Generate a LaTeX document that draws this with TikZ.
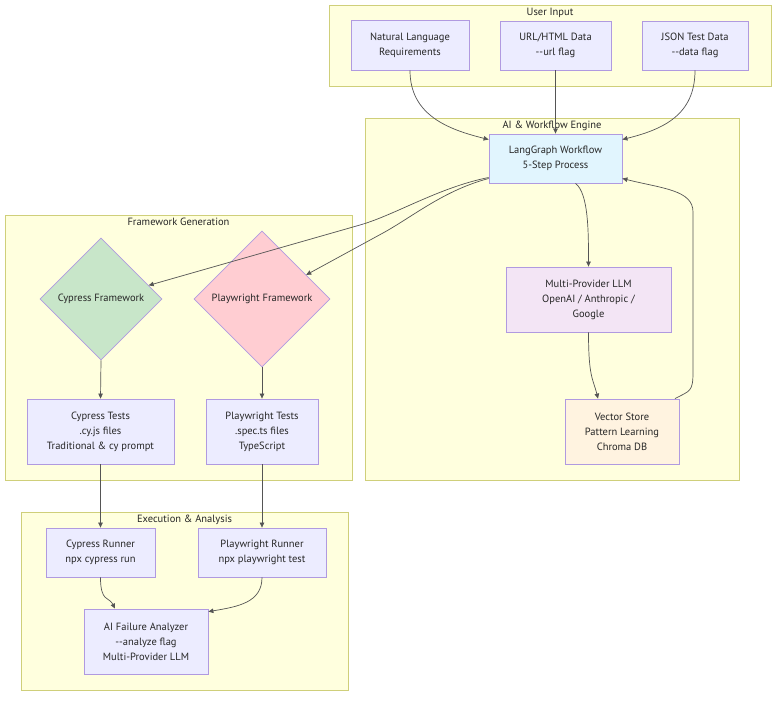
\documentclass[tikz,border=0pt]{standalone}
\usepackage{fontspec}
\setmainfont{PT Sans}
\usetikzlibrary{shapes.geometric, arrows.meta, positioning, calc}
\definecolor{clfill}{HTML}{FFFFDE}
\definecolor{cldraw}{HTML}{CFCF7A}
\definecolor{ndfill}{HTML}{ECECFF}
\definecolor{nddraw}{HTML}{B09AE0}
\definecolor{edgecol}{HTML}{555555}
\definecolor{lgfill}{HTML}{E1F5FE}
\definecolor{llmfill}{HTML}{F3E5F5}
\definecolor{vsfill}{HTML}{FFF3E0}
\definecolor{cyfill}{HTML}{C8E6C9}
\definecolor{pwfill}{HTML}{FFCDD2}
\begin{document}
\begin{tikzpicture}[x=1pt, y=-1pt,
    every node/.style={font=\fontsize{10.5}{15}\selectfont, text=black!85},
    cluster/.style={rectangle, draw=cldraw, fill=clfill, line width=0.9pt, inner sep=0pt},
    cltitle/.style={inner sep=0pt},
    box/.style={rectangle, draw=nddraw, fill=ndfill, line width=0.8pt, align=center, inner sep=0pt},
    decision/.style={diamond, draw=nddraw, line width=0.6pt, align=center, inner sep=0pt},
    flow/.style={-{Triangle[length=5pt, width=4.5pt]}, draw=edgecol, line width=0.7pt}]
    \useasboundingbox (0,0) rectangle (784,703);
    % Clusters
    \node [cluster, minimum width=442pt, minimum height=81pt] (userin) at (550,45.5) {};
    \node [cltitle] (userintitle) at (550,13) {User Input};
    \node [cluster, minimum width=374pt, minimum height=362pt] (engine) at (552,299) {};
    \node [cltitle] (enginetitle) at (552,125.5) {AI \& Workflow Engine};
    \node [cluster, minimum width=347pt, minimum height=265pt] (framegen) at (178.5,347.5) {};
    \node [cltitle] (framegentitle) at (178.5,222) {Framework Generation};
    \node [cluster, minimum width=327pt, minimum height=178pt] (execana) at (184.5,601) {};
    \node [cltitle] (execanatitle) at (184.5,520) {Execution \& Analysis};

    % Nodes
    \node [box, minimum width=118pt, minimum height=50pt] (natlang) at (410,45) {Natural Language\\Requirements};
    \node [box, minimum width=111pt, minimum height=49pt] (urldata) at (555.5,45.5) {URL/HTML Data\\-{}-url flag};
    \node [box, minimum width=106pt, minimum height=49pt] (jsondata) at (695,45.5) {JSON Test Data\\-{}-data flag};
    \node [box, fill=lgfill, minimum width=133pt, minimum height=49pt] (langgraph) at (555.5,158.5) {LangGraph Workflow\\5-Step Process};
    \node [box, fill=llmfill, minimum width=165pt, minimum height=65pt] (llm) at (588.5,299.5) {Multi-Provider LLM\\OpenAI / Anthropic /\\Google};
    \node [box, fill=vsfill, minimum width=114pt, minimum height=65pt] (vecstore) at (622,431.5) {Vector Store\\Pattern Learning\\Chroma DB};
    \node [decision, fill=cyfill, minimum width=122pt, minimum height=122pt] (cydecision) at (101,299) {Cypress Framework};
    \node [decision, fill=pwfill, minimum width=136pt, minimum height=136pt] (pwdecision) at (262,299) {Playwright Framework};
    \node [box, minimum width=147pt, minimum height=65pt] (cytests) at (100.5,431.5) {Cypress Tests\\.cy.js files\\Traditional \& cy prompt};
    \node [box, minimum width=112pt, minimum height=65pt] (pwtests) at (262,431.5) {Playwright Tests\\.spec.ts files\\TypeScript};
    \node [box, minimum width=109pt, minimum height=49pt] (cyrunner) at (100.5,552.5) {Cypress Runner\\npx cypress run};
    \node [box, minimum width=128pt, minimum height=49pt] (pwrunner) at (262,552.5) {Playwright Runner\\npx playwright test};
    \node [box, minimum width=124pt, minimum height=65pt] (analyzer) at (146,641.5) {AI Failure Analyzer\\-{}-analyze flag\\Multi-Provider LLM};

    % Bend points
    \coordinate (bendcy) at (360,225);
    \coordinate (bendpw) at (383,233);
    \coordinate (bendvs) at (693,372);
    \coordinate (bendtop) at (693,212);

    % Edges
    \draw [flow] (natlang.south) .. controls +(0,45) and +(-40,-10) .. ([yshift=19pt]langgraph.west);
    \draw [flow] (urldata.south) -- (urldata.south |- langgraph.north);
    \draw [flow] (jsondata.south) .. controls +(0,45) and +(40,-10) .. ([yshift=19pt]langgraph.east);
    \draw [flow] ([yshift=-19pt]langgraph.west) .. controls +(-50,10) and +(35,-10) .. (bendcy) -- (cydecision);
    \draw [flow] ([yshift=-20pt]langgraph.west) .. controls +(-45,12) and +(30,-16.5) .. (bendpw) -- (pwdecision);
    \draw [flow] ([xshift=20pt]langgraph.south) .. controls +(13,10) and +(0,-35) .. (llm.north);
    \draw [flow] (llm.south) .. controls +(0,45) and +(-5,-20) .. ([xshift=-24pt]vecstore.north);
    \draw [flow] ([xshift=53pt]vecstore.north) .. controls +(15,-8) and +(0,20) .. (bendvs) -- (bendtop) .. controls +(0,-22) and +(40,10) .. ([yshift=-20pt]langgraph.east);
    \draw [flow] (cydecision.south) -- (cytests.north);
    \draw [flow] (pwdecision.south) -- (pwtests.north);
    \draw [flow] (cytests.south) -- (cyrunner.north);
    \draw [flow] (pwtests.south) -- (pwrunner.north);
    \draw [flow] (cyrunner.south) .. controls +(0,25) and +(-6,-12) .. ([xshift=-31pt]analyzer.north);
    \draw [flow] (pwrunner.south) .. controls +(0,25) and +(30,-5) .. ([yshift=-3pt]analyzer.north east);
\end{tikzpicture}
\end{document}
